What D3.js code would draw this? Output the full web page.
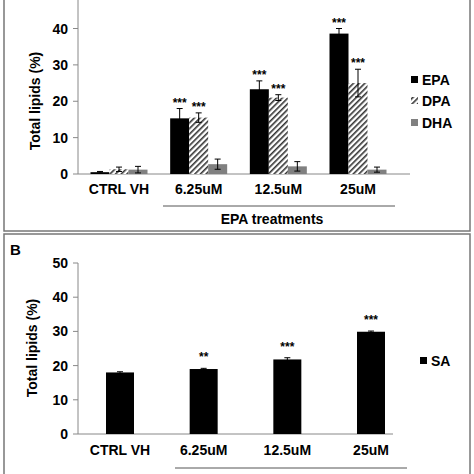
<!DOCTYPE html><html><head><script src="https://d3js.org/d3.v7.min.js"></script>
<style>body{margin:0;background:#fff}text{font-family:"Liberation Sans",Arial,sans-serif;font-weight:bold}</style></head><body>
<svg id="c" width="474" height="474"></svg>
<script>
const categories=["CTRL VH","6.25uM","12.5uM","25uM"];
const seriesA=["EPA","DPA","DHA"];
const epa=[0.5,15.3,23.3,38.6], epaErr=[0.2,2.7,2.3,1.4];
const dpa=[1.3,15.5,21.0,25.0], dpaErr=[0.6,1.3,0.8,3.8];
const dha=[1.2,2.7,2.1,1.2], dhaErr=[0.9,1.4,1.3,0.7];
const starsA=[["","","",""],["***","***","",""],["***","***","",""],["***","***","",""]];
const sa=[18.0,19.0,21.8,29.9], saErr=[0.2,0.2,0.5,0.2];
const starsB=["","**","***","***"];
const ticksA=[0,10,20,30,40], ticksB=[0,10,20,30,40,50];

const svg=d3.select("#c");
const defs=svg.append("defs");
const p=defs.append("pattern").attr("id","hatch").attr("patternUnits","userSpaceOnUse").attr("width",4).attr("height",4).attr("patternTransform","rotate(45)");
p.append("rect").attr("width",4).attr("height",4).attr("fill","#fff");
p.append("rect").attr("width",1.6).attr("height",4).attr("fill","#333");
svg.append("rect").attr("x",4).attr("y",-2).attr("width",466).attr("height",233).attr("fill","none").attr("stroke","#777").attr("stroke-width",1.5);
svg.append("rect").attr("x",4).attr("y",234).attr("width",466).attr("height",245).attr("fill","none").attr("stroke","#777").attr("stroke-width",1.5);

// Panel A
const yA=d3.scaleLinear().domain([0,40]).range([174,28.5]);
const xA=d3.scaleBand().domain(categories).range([78,438]).paddingInner(0).paddingOuter(0);
const xA2=d3.scalePoint().domain(categories).range([119,358]);
const sub=d3.scaleBand().domain(seriesA).range([-28.5,28.5]);
const gA=svg.append("g");
gA.append("line").attr("x1",78).attr("x2",78).attr("y1",0).attr("y2",174).attr("stroke","#888");
gA.append("line").attr("x1",78).attr("x2",410).attr("y1",174).attr("y2",174).attr("stroke","#888");
ticksA.forEach(t=>{gA.append("line").attr("x1",73).attr("x2",78).attr("y1",yA(t)).attr("y2",yA(t)).attr("stroke","#888");
 gA.append("text").attr("x",68).attr("y",yA(t)+5).attr("text-anchor","end").attr("font-size",14).text(t);});
const dataA=[[epa,epaErr,"#000"],[dpa,dpaErr,"url(#hatch)"],[dha,dhaErr,"#808080"]];
dataA.forEach((d,si)=>{categories.forEach((c,ci)=>{
 const x=xA2(c)+sub(seriesA[si]), w=sub.bandwidth(), v=d[0][ci], e=d[1][ci];
 gA.append("rect").attr("x",x).attr("y",yA(v)).attr("width",w).attr("height",yA(0)-yA(v)).attr("fill",d[2]);
 const cx=x+w/2;
 gA.append("line").attr("x1",cx).attr("x2",cx).attr("y1",yA(v+e)).attr("y2",yA(v-e)).attr("stroke","#000");
 [v+e,v-e].forEach(q=>gA.append("line").attr("x1",cx-3).attr("x2",cx+3).attr("y1",yA(q)).attr("y2",yA(q)).attr("stroke","#000"));
 const s=starsA[ci][si]; if(s) gA.append("text").attr("x",cx).attr("y",yA(v+e)-2).attr("text-anchor","middle").attr("font-size",12).attr("font-weight","normal").text(s);
});});
categories.forEach(c=>gA.append("text").attr("x",xA2(c)).attr("y",194).attr("text-anchor","middle").attr("font-size",14).text(c));
gA.append("line").attr("x1",163).attr("x2",395).attr("y1",206).attr("y2",206).attr("stroke","#555");
gA.append("text").attr("x",272).attr("y",224).attr("text-anchor","middle").attr("font-size",14).text("EPA treatments");
gA.append("text").attr("transform","translate(40,101) rotate(-90)").attr("text-anchor","middle").attr("font-size",14).text("Total lipids  (%)");
const legFill=["#000","url(#hatch)","#808080"];
seriesA.forEach((s,i)=>{const y=[80,101,123][i];
 gA.append("rect").attr("x",411).attr("y",y-4).attr("width",7).attr("height",7).attr("fill",legFill[i]);
 gA.append("text").attr("x",422).attr("y",y+5).attr("font-size",14).text(s);});

// Panel B
const yB=d3.scaleLinear().domain([0,50]).range([434,263]);
const xB=d3.scalePoint().domain(categories).range([120,371]);
const gB=svg.append("g");
gB.append("text").attr("x",10).attr("y",255).attr("font-size",15).text("B");
gB.append("line").attr("x1",78).attr("x2",78).attr("y1",263).attr("y2",434).attr("stroke","#888");
gB.append("line").attr("x1",78).attr("x2",393).attr("y1",434).attr("y2",434).attr("stroke","#888");
ticksB.forEach(t=>{gB.append("line").attr("x1",73).attr("x2",78).attr("y1",yB(t)).attr("y2",yB(t)).attr("stroke","#888");
 gB.append("text").attr("x",68).attr("y",yB(t)+5).attr("text-anchor","end").attr("font-size",14).text(t);});
categories.forEach((c,i)=>{const cx=xB(c), w=28, v=sa[i], e=saErr[i];
 gB.append("rect").attr("x",cx-w/2).attr("y",yB(v)).attr("width",w).attr("height",yB(0)-yB(v)).attr("fill","#000");
 gB.append("line").attr("x1",cx).attr("x2",cx).attr("y1",yB(v+e)).attr("y2",yB(v-e)).attr("stroke","#000");
 gB.append("line").attr("x1",cx-3).attr("x2",cx+3).attr("y1",yB(v+e)).attr("y2",yB(v+e)).attr("stroke","#000");
 if(starsB[i]) gB.append("text").attr("x",cx).attr("y",yB(v+e)-7).attr("text-anchor","middle").attr("font-size",12).attr("font-weight","normal").text(starsB[i]);
 gB.append("text").attr("x",cx).attr("y",455).attr("text-anchor","middle").attr("font-size",14).text(c);});
gB.append("line").attr("x1",175).attr("x2",407).attr("y1",468).attr("y2",468).attr("stroke","#555");
gB.append("text").attr("transform","translate(37,348) rotate(-90)").attr("text-anchor","middle").attr("font-size",14).text("Total lipids (%)");
gB.append("rect").attr("x",420).attr("y",357).attr("width",7).attr("height",7).attr("fill","#000");
gB.append("text").attr("x",431).attr("y",366).attr("font-size",14).text("SA");
</script></body></html>
